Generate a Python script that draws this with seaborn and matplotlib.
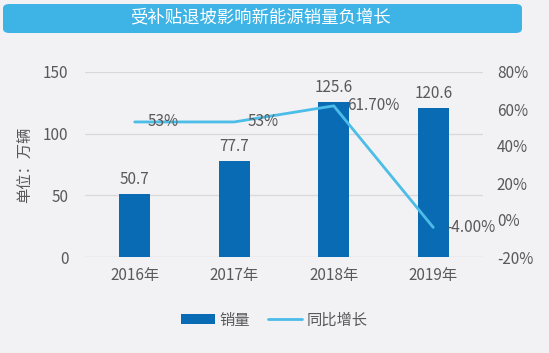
import matplotlib
matplotlib.use("Agg")
import matplotlib.pyplot as plt
from matplotlib.patches import FancyBboxPatch
import seaborn as sns
import pandas as pd

years = ["2016年", "2017年", "2018年", "2019年"]
sales = [50.7, 77.7, 125.6, 120.6]
growth = [53, 53, 61.7, -4.0]
growth_labels = ["53%", "53%", "61.70%", "-4.00%"]
left_ticks = [0, 50, 100, 150]
right_ticks = [-20, 0, 20, 40, 60, 80]

sns.set_theme(style="white")
plt.rcParams['font.family'] = ['Noto Sans CJK SC', 'DejaVu Sans']

bg = "#f2f1f3"
txt = "#595959"
bar_c = "#0a6bb5"
line_c = "#4bbde8"
fs = 11

fig = plt.figure(figsize=(5.49, 3.53), dpi=100, facecolor=bg)

# title bar
tb = FancyBboxPatch((3/549, (353-33)/353), (519)/549, 29/353,
                    boxstyle="round,pad=0,rounding_size=0.012",
                    transform=fig.transFigure, facecolor="#3db3e6",
                    edgecolor="none", zorder=0)
fig.patches.append(tb)
fig.text(0.475, (353-17.5)/353, "受补贴退坡影响新能源销量负增长", color="white",
         fontsize=12.5, ha="center", va="center")

ax = fig.add_axes([85/549, 96/353, 398/549, 185/353])
ax.set_facecolor(bg)
df = pd.DataFrame({"year": years, "sales": sales})
sns.barplot(data=df, x="year", y="sales", color=bar_c, width=0.31,
            saturation=1, ax=ax, zorder=3, label="销量", linewidth=0,
            edgecolor="none")
ax.set_ylim(0, 150)
ax.set_xlim(-0.5, 3.5)
ax.set_yticks(left_ticks)
ax.yaxis.grid(True, color="#d9d9d9", linewidth=0.9)
ax.set_axisbelow(True)
for s in ax.spines.values():
    s.set_visible(False)
ax.axhline(0, color="#d9d9d9", linewidth=0.9, zorder=1)
ax.tick_params(axis="both", length=0, colors=txt, labelsize=fs, pad=7)
ax.tick_params(axis="y", pad=12)
ax.set_xlabel("")
ax.set_ylabel("单位：万辆", color=txt, fontsize=fs, labelpad=6)
for i, v in enumerate(sales):
    ax.text(i, v + 5, f"{v}", ha="center", va="bottom", color=txt, fontsize=fs)
if ax.get_legend() is not None:
    ax.get_legend().remove()

ax2 = ax.twinx()
ax2.set_ylim(-20, 80)
ax2.set_yticks(right_ticks)
ax2.set_yticklabels([f"{t}%" for t in right_ticks])
sns.lineplot(x=list(range(len(years))), y=growth, color=line_c, linewidth=2,
             ax=ax2, zorder=4, label="同比增长")
for s in ax2.spines.values():
    s.set_visible(False)
ax2.tick_params(axis="y", length=0, colors=txt, labelsize=fs, pad=10)
for i, (v, lab) in enumerate(zip(growth, growth_labels)):
    ax2.text(i + 0.13, v, lab, ha="left", va="center", color=txt, fontsize=fs, zorder=5)

ax2.get_legend().remove()
h1, l1 = ax.get_legend_handles_labels()
h2, l2 = ax2.get_legend_handles_labels()
fig.legend(h1 + h2, l1 + l2, loc="center", bbox_to_anchor=(0.5, (353-320)/353),
           ncol=2, frameon=False, fontsize=fs, labelcolor=txt,
           handlelength=2.2, handleheight=0.6, columnspacing=1.2, handletextpad=0.3)

fig.savefig("out.png", dpi=100, facecolor=bg)
